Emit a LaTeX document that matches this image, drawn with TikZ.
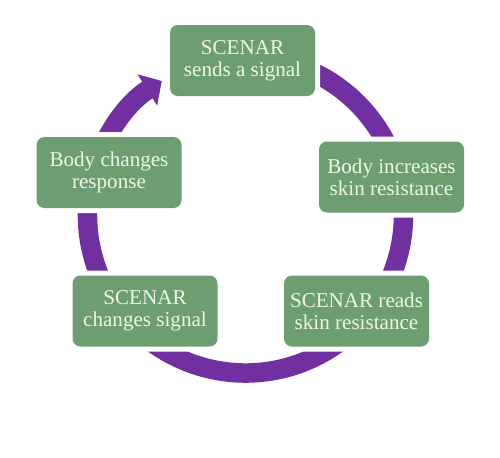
\documentclass[tikz,border=0pt]{standalone}
\usepackage{fontspec}
\setmainfont{Liberation Serif}
\usepackage{xcolor}
\usepackage{tikz}
\usetikzlibrary{arrows.meta, positioning}

\definecolor{boxgreen}{RGB}{108,158,114}
\definecolor{ringpurple}{RGB}{112,48,160}
\definecolor{boxtext}{RGB}{238,246,232}

\begin{document}
\begin{tikzpicture}[
        stage/.style={rectangle, rounded corners=0.16cm, fill=boxgreen, text=boxtext,
            minimum width=2.9cm, minimum height=1.42cm, align=center,
            preaction={draw=white, line width=0.2cm}},
        loopring/.style={draw=ringpurple, line width=0.39cm},
        font=\fontsize{12}{12.5}\selectfont
    ]
        \useasboundingbox (0,0) rectangle (10,9.14);
        \coordinate (centre) at (4.91,4.84);

        % ring goes clockwise and ends in the head at the top left
        \draw[loopring, -{Triangle[width=0.72cm, length=0.34cm]}]
            ([shift={(80:3.16)}]centre) arc[start angle=80, end angle=-238, radius=3.16];

        \node[stage] (send) at (4.85,7.93) {SCENAR\\sends a signal};
        \node[stage] (rise) at (7.83,5.60) {Body increases\\skin resistance};
        \node[stage] (read) at (7.13,2.92) {SCENAR reads\\skin resistance};
        \node[stage] (alter) at (2.90,2.92) {SCENAR\\changes signal};
        \node[stage] (reply) at (2.18,5.69) {Body changes\\response};

    \end{tikzpicture}
\end{document}
